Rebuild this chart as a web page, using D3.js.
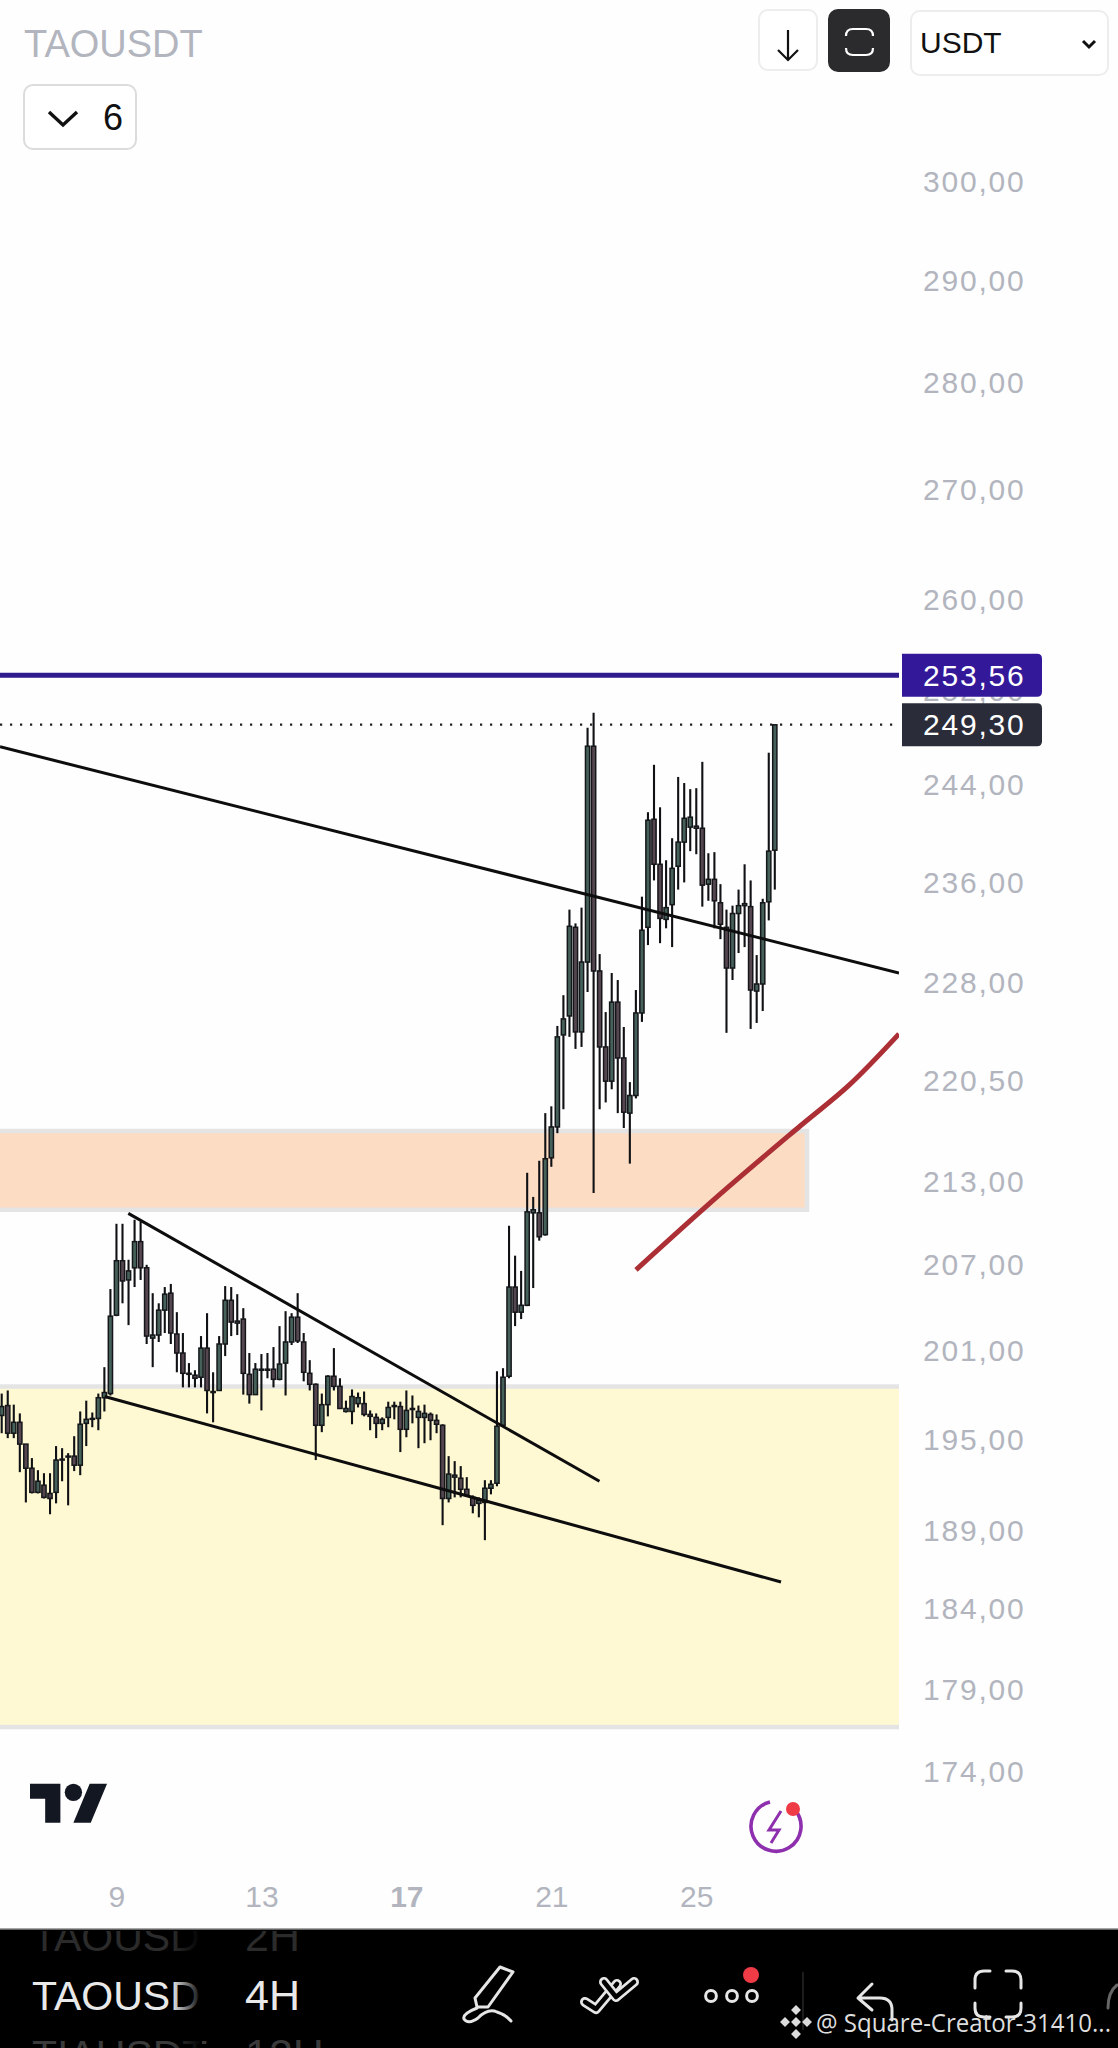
<!DOCTYPE html>
<html><head><meta charset="utf-8">
<script src="https://cdn.jsdelivr.net/npm/d3@7"></script>
<style>
html,body{margin:0;padding:0;background:#fefefe;}
svg{display:block;font-family:"Liberation Sans",Arial,sans-serif;}
</style></head><body><div id="chart"></div>
<script>
const opens=[196.60,197.27,195.41,196.14,194.68,193.08,191.49,191.96,191.42,191.49,
193.62,193.82,193.88,193.28,196.07,196.34,196.40,197.80,198.08,203.47,
207.30,205.94,206.80,208.66,206.80,201.88,202.09,203.82,205.01,202.16,
200.85,199.46,199.33,199.19,201.19,198.22,198.29,201.47,204.51,202.92,
203.20,199.39,198.01,199.67,199.74,199.74,199.05,200.16,201.61,203.33,
201.61,199.46,198.71,195.94,197.33,199.26,198.57,196.87,196.87,197.40,
197.40,196.67,196.47,196.07,196.47,197.20,197.20,195.67,197.00,196.47,
196.47,196.67,196.27,195.94,191.09,192.49,192.42,191.69,191.16,190.77,
190.83,191.76,192.09,195.94,199.26,205.44,203.68,204.16,210.73,210.73,
209.16,214.74,217.02,223.97,225.43,232.38,224.20,229.63,247.25,228.93,
223.05,220.45,226.50,222.21,218.05,219.37,225.66,232.38,241.14,237.45,
233.01,234.19,237.29,239.26,240.49,240.57,240.40,235.84,236.23,234.34,
232.38,229.16,233.48,234.11,234.03,227.36,227.91,234.42,238.60];
const highs=[198.08,198.29,197.33,196.74,194.68,193.75,192.95,192.75,192.75,194.55,
194.41,194.08,195.21,196.87,197.60,196.80,198.08,199.88,205.30,209.94,
209.94,207.37,210.23,210.09,207.01,205.01,204.30,205.44,205.66,203.68,
202.23,200.16,199.67,202.02,203.61,199.53,202.02,205.51,205.44,204.94,
203.96,200.85,200.16,200.78,200.85,201.26,202.71,203.75,203.61,205.01,
202.23,200.36,198.77,198.08,199.33,201.19,199.12,197.60,198.36,198.15,
198.22,196.94,196.74,196.47,197.53,197.53,197.53,198.29,197.95,197.27,
197.33,196.80,196.67,196.01,193.88,193.55,193.22,192.49,191.29,191.16,
192.29,192.29,199.60,199.81,209.80,207.66,206.58,213.64,211.88,214.52,
218.05,218.56,224.66,227.04,233.79,232.69,233.95,248.82,250.10,230.26,
225.73,228.77,228.22,224.58,220.38,227.44,234.83,241.72,245.68,242.13,
237.78,239.58,244.66,244.15,243.64,243.72,245.93,238.35,238.44,235.84,
233.79,234.11,235.40,237.45,236.14,230.18,234.66,246.70,249.07];
const lows=[195.41,195.08,195.08,192.82,190.83,191.42,191.42,191.09,190.06,190.77,
192.22,190.64,192.89,192.62,194.55,195.81,195.61,196.87,197.95,203.40,
204.30,202.78,205.44,205.94,201.47,199.88,201.61,202.23,201.47,199.53,
198.50,198.50,198.50,198.50,196.74,196.14,198.29,200.64,202.02,202.09,
198.01,197.40,198.01,196.94,199.12,198.50,198.98,197.95,201.40,201.54,
198.91,198.29,193.62,195.48,196.54,198.29,197.07,196.80,196.01,197.14,
196.54,195.61,195.08,195.61,195.81,196.34,194.15,195.14,196.07,194.41,
194.74,194.94,195.41,189.35,190.83,191.16,191.16,191.29,190.12,189.86,
188.38,191.36,191.89,195.87,199.12,202.71,203.20,204.10,205.37,208.73,
209.09,214.08,216.56,218.34,223.82,222.90,223.05,227.28,212.17,218.34,
218.85,219.84,218.05,216.94,214.31,219.15,224.97,230.97,236.14,231.12,
232.30,230.81,235.40,235.98,238.52,238.27,234.03,234.50,232.30,231.44,
224.13,228.22,230.34,230.81,224.43,224.89,225.81,232.93,235.40];
const closes=[197.20,195.41,196.14,194.68,193.08,191.49,192.22,191.16,191.09,193.62,
193.68,193.88,193.28,196.01,196.34,196.40,197.80,198.15,203.40,207.30,
205.87,206.58,208.66,206.80,202.02,202.09,203.82,204.94,202.23,200.85,
199.46,199.39,199.12,201.19,198.29,198.15,201.47,204.51,202.99,203.06,
199.46,198.01,199.74,199.74,199.67,199.05,200.09,201.61,203.33,201.68,
199.53,198.71,195.94,197.33,199.26,198.57,197.07,197.07,197.88,197.80,
196.67,196.54,196.07,196.34,197.14,197.27,195.67,196.94,197.07,196.87,
196.74,196.27,196.01,191.09,192.69,192.62,191.69,191.29,190.64,190.96,
191.76,192.02,195.87,199.19,205.44,203.68,204.16,210.80,210.95,209.01,
214.67,217.02,223.82,225.20,232.46,224.20,229.63,247.25,228.93,223.05,
220.45,226.50,222.21,218.12,219.37,225.66,232.15,241.06,237.45,233.09,
233.95,237.12,239.26,241.22,241.31,240.40,235.76,236.23,234.50,232.62,
229.16,233.48,234.11,234.27,227.44,227.91,234.34,238.52,249.07];

const priceTicks=[300,290,280,270,260,252,244,236,228,220.5,213,207,201,195,189,184,179,174];
const dayLabels=["9","13","17","21","25"];
const dayBars=[19,43,67,91,115];
const lastPrice=249.30, alertPrice=253.56;
const orangeZone=[216.72,210.95];
const yellowZone=[198.56,176.7];
const trendLong=[[-0.28,247.2],[148.56,228.77]];
const trendUpper=[[20.96,210.69],[98.97,192.22]];
const trendLower=[[17.05,197.88],[129.03,185.70]];
const curveRed=[[105.02,206.65],[118.9,212.06],[132.2,217.09],[140.3,220.15],[148.56,224.05]];

const W=1118,H=2048,plotR=899,GREY="#b2b5be",tagShift=2.6;
const svg=d3.select("#chart").append("svg").attr("width",W).attr("height",H).attr("viewBox",`0 0 ${W} ${H}`);
const defs=svg.append("defs");
defs.append("clipPath").attr("id","plot").append("rect").attr("width",plotR).attr("height",1929);
const fade=defs.append("linearGradient").attr("id","fade");
fade.append("stop").attr("offset",0).attr("stop-color","#000").attr("stop-opacity",0);
fade.append("stop").attr("offset",1).attr("stop-color","#000").attr("stop-opacity",1);

svg.append("rect").attr("width",W).attr("height",H).attr("fill","#fefefe");
const x=d3.scaleLinear().domain([0,128]).range([1.7,774.8]);
const y=d3.scaleLog().domain([300,174]).range([181.6,1772]);
const plot=svg.append("g").attr("clip-path","url(#plot)");

// zones
const zones=[{z:yellowZone,fill:"#fef8d3",r:plotR+10},{z:orangeZone,fill:"#fcdcc3",r:807}];
plot.selectAll("rect.zone").data(zones).join("rect").attr("class","zone")
 .attr("x",-10).attr("width",d=>d.r+10).attr("y",d=>y(d.z[0])).attr("height",d=>y(d.z[1])-y(d.z[0]))
 .attr("fill",d=>d.fill).attr("stroke","#e4e4e4").attr("stroke-width",4.5);

// price lines
plot.append("line").attr("x1",0).attr("x2",plotR).attr("y1",y(alertPrice)+tagShift).attr("y2",y(alertPrice)+tagShift)
 .attr("stroke","#2f1a8e").attr("stroke-width",4.8);
plot.append("line").attr("x1",0).attr("x2",plotR).attr("y1",y(lastPrice)+tagShift).attr("y2",y(lastPrice)+tagShift)
 .attr("stroke","#222").attr("stroke-width",2.2).attr("stroke-dasharray","2.2 7.8");

// candles
const bars=d3.range(opens.length);
const g=plot.append("g");
g.selectAll("line.w").data(bars).join("line").attr("class","w")
 .attr("x1",i=>x(i)).attr("x2",i=>x(i)).attr("y1",i=>y(highs[i])).attr("y2",i=>y(lows[i]))
 .attr("stroke","#101114").attr("stroke-width",2.1);
g.selectAll("rect.b").data(bars).join("rect").attr("class","b")
 .attr("x",i=>x(i)-2.1).attr("width",4.2)
 .attr("y",i=>y(Math.max(opens[i],closes[i])))
 .attr("height",i=>Math.max(0.8,y(Math.min(opens[i],closes[i]))-y(Math.max(opens[i],closes[i]))))
 .attr("fill",i=>closes[i]>=opens[i]?"#456159":"#564650")
 .attr("stroke","#15161a").attr("stroke-width",1.5);

// drawn lines
const lineGen=d3.line().x(d=>x(d[0])).y(d=>y(d[1]));
plot.selectAll("path.t").data([trendLong,trendUpper,trendLower]).join("path").attr("class","t")
 .attr("d",lineGen).attr("fill","none").attr("stroke","#0d0d0d").attr("stroke-width",3);
plot.append("path").attr("d",lineGen.curve(d3.curveCatmullRom)(curveRed)).attr("fill","none")
 .attr("stroke","#ab2f35").attr("stroke-width",5);

// price axis
const comma=v=>d3.format(".2f")(v).replace(".",",");
const axY=svg.append("g").attr("transform","translate(923,0)")
 .call(d3.axisRight(y).tickValues(priceTicks).tickSize(0).tickPadding(0).tickFormat(comma));
axY.select(".domain").remove();
axY.selectAll("text").attr("fill",GREY).attr("font-size",30).attr("letter-spacing",1.8)
 .attr("font-family","Liberation Sans").attr("dy","0.33em");

// price labels
const tags=[{v:alertPrice,fill:"#33189a"},{v:lastPrice,fill:"#2a2c39"}];
const tag=svg.selectAll("g.tag").data(tags).join("g").attr("class","tag");
tag.append("path").attr("d",d=>{const m=y(d.v)+tagShift,t=m-21.5,r=1042,l=902,b=m+21.5,c=5;
 return `M${l} ${t}H${r-c}Q${r} ${t} ${r} ${t+c}V${b-c}Q${r} ${b} ${r-c} ${b}H${l}Z`;}).attr("fill",d=>d.fill);
tag.append("text").attr("x",923).attr("y",d=>y(d.v)+tagShift).attr("dy","0.35em").attr("fill","#fff")
 .attr("font-size",30).attr("letter-spacing",1.8).text(d=>comma(d.v));

// time axis
const axX=svg.append("g").attr("transform","translate(0,1896)")
 .call(d3.axisBottom(x).tickValues(dayBars).tickSize(0).tickPadding(0).tickFormat((d,i)=>dayLabels[i]));
axX.select(".domain").remove();
axX.selectAll("text").attr("fill",GREY).attr("font-size",30).attr("dy","0.36em").attr("y",0)
 .attr("font-weight",(d,i)=>dayLabels[i]==="17"?"bold":"normal");

// header
svg.append("text").attr("x",24).attr("y",57).attr("font-size",38).attr("fill",GREY).text("TAOUSDT");
const btn=(l,t,r,b,fill,stroke)=>svg.append("rect").attr("x",l).attr("y",t).attr("width",r-l).attr("height",b-t)
 .attr("rx",9).attr("fill",fill).attr("stroke",stroke).attr("stroke-width",2);
btn(759,10,817,70,"#fff","#ededed");
btn(829,10,889,71,"#2b2b2d","#2b2b2d");
btn(911,11,1108,75,"#fff","#ededed");
btn(24,85,136,149,"#fff","#dcdcdc");
svg.append("path").attr("d","M788 30V60M778 50L788 60L798 50").attr("fill","none").attr("stroke","#111").attr("stroke-width",2.2);
svg.append("path").attr("d","M846 36Q846 29 853 29H866Q873 29 873 36M873 48Q873 55 866 55H853Q846 55 846 48")
 .attr("fill","none").attr("stroke","#fff").attr("stroke-width",2.2);
svg.append("text").attr("x",920).attr("y",53).attr("font-size",30).attr("fill","#111").text("USDT");
svg.append("path").attr("d","M1083 41L1089 47L1095 41").attr("fill","none").attr("stroke","#111").attr("stroke-width",3);
svg.append("path").attr("d","M49 112L63 125L77 112").attr("fill","none").attr("stroke","#111").attr("stroke-width",3.4);
svg.append("text").attr("x",103).attr("y",130).attr("font-size",36).attr("fill","#111").text("6");

// TV logo
const logo=svg.append("g").attr("transform","translate(30,1775) scale(2.17)");
logo.append("path").attr("d","M14 22H7V11H0V4h14v18zM28 22h-8l7.5-18h8L28 22z").attr("fill","#131722");
logo.append("circle").attr("cx",20).attr("cy",8).attr("r",4).attr("fill","#131722");

// replay icon
svg.append("path").attr("d","M795 1810A25 25 0 1 1 770 1802").attr("fill","none").attr("stroke","#8e30ae").attr("stroke-width",3.6);
svg.append("path").attr("d","M781 1811L769 1830H779L771 1843").attr("fill","none").attr("stroke","#8e30ae").attr("stroke-width",3);
svg.append("circle").attr("cx",793).attr("cy",1809).attr("r",7).attr("fill","#ee3b45");

// bottom bar
svg.append("rect").attr("y",1929).attr("width",W).attr("height",H-1929).attr("fill","#000");
svg.append("line").attr("x1",0).attr("x2",W).attr("y1",1929).attr("y2",1929).attr("stroke","#8a8a8a").attr("stroke-width",1.5);
defs.append("clipPath").attr("id","bar").append("rect").attr("y",1931).attr("width",W).attr("height",H-1931);
const rows=svg.append("g").attr("clip-path","url(#bar)");
const rowData=[{a:"TAOUSD",b:"2H",base:1951,c:"#2b2b2b"},{a:"TAOUSD",b:"4H",base:2010,c:"#e9e9e9"},{a:"TIAUSDT",b:"12H",base:2069,c:"#3a3a3a"}];
rows.selectAll("text.a").data(rowData).join("text").attr("class","a").attr("x",32).attr("y",d=>d.base).attr("font-size",41).attr("fill",d=>d.c).text(d=>d.a);
rows.selectAll("text.b").data(rowData).join("text").attr("class","b").attr("x",245).attr("y",d=>d.base).attr("font-size",43).attr("fill",d=>d.c).text(d=>d.b);
svg.append("rect").attr("x",172).attr("y",1931).attr("width",30).attr("height",117).attr("fill","url(#fade)");

const icon=svg.append("g").attr("fill","none").attr("stroke","#e6e6e6").attr("stroke-width",3).attr("stroke-linejoin","round").attr("stroke-linecap","round");
icon.append("path").attr("d","M475 1998L500 1967L513 1972L488 2007L477 2007Z");
icon.append("path").attr("d","M477 2008Q462 2014 464 2019Q468 2025 478 2018Q488 2008 497 2012Q506 2015 511 2021");
// outlined double-chevron band
const band=svg.append("g").attr("fill","none").attr("stroke-linejoin","round").attr("stroke-linecap","round");
["M585 2002L596 2009L617 1984","M604 1982L616 1997L634 1982"].forEach(dp=>{
 band.append("path").attr("d",dp).attr("stroke","#e6e6e6").attr("stroke-width",10);
 band.append("path").attr("d",dp).attr("stroke","#000").attr("stroke-width",4.5);
});
[711,732,752].forEach(cx=>icon.append("circle").attr("cx",cx).attr("cy",1996).attr("r",5.4));
svg.append("ellipse").attr("cx",751).attr("cy",1975).attr("rx",8).attr("ry",8).attr("fill","#ee3b45");
svg.append("line").attr("x1",803).attr("x2",803).attr("y1",1972).attr("y2",2030).attr("stroke","#3a3a3a").attr("stroke-width",1);
icon.append("path").attr("d","M872 1984L858 1998L872 2010M858 1998H880Q892 1998 892 2010V2020");
icon.append("path").attr("d","M975 1988V1980Q975 1971 984 1971H990M1006 1971H1012Q1021 1971 1021 1980V1988M1021 2003V2008Q1021 2017 1012 2017H1006M975 2003V2008Q975 2017 984 2017H990");
icon.append("path").attr("d","M1117 1985Q1108 1992 1108 2008").attr("stroke","#666");

// watermark
const dia=svg.append("g").attr("fill","#dcdcdc").attr("transform","translate(796,2022)");
[[0,-12],[-11,0],[11,0],[0,12],[0,0]].forEach(p=>dia.append("rect").attr("x",p[0]-3.5).attr("y",p[1]-3.5).attr("width",7).attr("height",7).attr("transform",`rotate(45 ${p[0]} ${p[1]})`));
svg.append("text").attr("x",816).attr("y",2032).attr("font-family","Open Sans").attr("font-size",25)
 .attr("fill","#dedede").attr("textLength",295).attr("lengthAdjust","spacingAndGlyphs").text("@ Square-Creator-31410...");
</script></body></html>
